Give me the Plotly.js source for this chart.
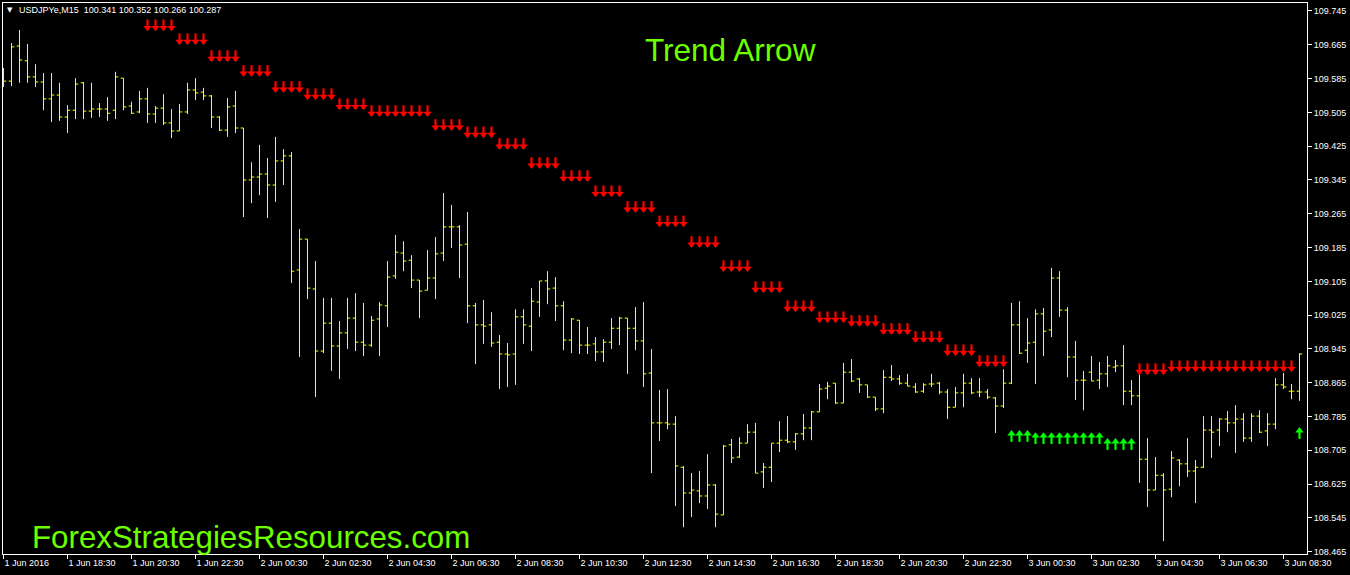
<!DOCTYPE html>
<html>
<head>
<meta charset="utf-8">
<script src="https://cdn.plot.ly/plotly-3.0.1.min.js"></script>
<style>html,body{margin:0;padding:0;background:#000;}#chart{width:1350px;height:575px;}</style>
</head>
<body>
<div id="chart"></div>
<script>
// ---- DATA (USDJPYe M15) ----
const barIndex = Array.from({length: 163}, (_, i) => i);
const openP = [109.586,109.579,109.662,109.627,109.589,109.577,109.537,109.546,109.494,109.510,
109.575,109.508,109.513,109.513,109.510,109.586,109.520,109.506,109.537,109.501,
109.515,109.480,109.461,109.506,109.558,109.553,109.544,109.494,109.463,109.520,
109.468,109.345,109.352,109.359,109.333,109.390,109.402,109.132,109.205,109.087,
108.940,109.006,108.952,108.983,109.018,108.961,108.954,109.016,109.047,109.118,
109.172,109.155,109.108,109.084,109.113,109.172,109.234,109.234,109.193,109.047,
109.002,109.002,108.961,108.933,108.933,109.021,108.999,109.056,109.106,109.089,
109.047,108.966,109.013,108.954,108.957,108.938,108.961,108.994,109.018,108.994,
108.964,108.888,108.770,108.770,108.767,108.665,108.604,108.609,108.597,108.623,
108.552,108.718,108.689,108.722,108.748,108.654,108.665,108.722,108.729,108.725,
108.744,108.758,108.796,108.852,108.864,108.817,108.890,108.874,108.860,108.831,
108.803,108.878,108.874,108.864,108.855,108.845,108.862,108.864,108.843,108.807,
108.841,108.864,108.843,108.843,108.829,108.810,108.864,109.002,108.942,108.961,
109.028,108.990,109.113,109.037,108.926,108.871,108.890,108.871,108.886,108.902,
108.905,108.845,108.834,108.684,108.611,108.646,108.613,108.682,108.673,108.656,
108.665,108.753,108.753,108.779,108.770,108.779,108.734,108.786,108.751,108.767,
108.860,108.845,108.845];
const highP = [109.610,109.669,109.700,109.667,109.619,109.598,109.598,109.575,109.522,109.586,
109.577,109.575,109.527,109.541,109.601,109.586,109.530,109.556,109.563,109.520,
109.548,109.513,109.525,109.575,109.586,109.563,109.546,109.496,109.539,109.556,
109.468,109.387,109.428,109.397,109.447,109.418,109.411,109.229,109.205,109.153,
109.066,109.066,109.011,109.066,109.077,109.054,109.023,109.056,109.153,109.215,
109.200,109.167,109.108,109.179,109.210,109.314,109.286,109.238,109.269,109.054,
109.061,109.032,108.978,108.959,109.039,109.039,109.089,109.106,109.129,109.115,
109.058,109.018,109.013,108.997,108.973,108.968,109.018,109.021,109.018,109.044,
109.056,108.945,108.848,108.850,108.786,108.668,108.651,108.656,108.696,108.625,
108.718,108.732,108.736,108.767,108.770,108.675,108.722,108.774,108.786,108.746,
108.791,108.798,108.862,108.867,108.864,108.912,108.921,108.876,108.860,108.831,
108.895,108.907,108.883,108.886,108.864,108.864,108.886,108.867,108.850,108.855,
108.886,108.876,108.876,108.850,108.831,108.897,109.054,109.058,109.018,109.039,
109.042,109.137,109.129,109.044,108.964,108.893,108.928,108.914,108.928,108.919,
108.954,108.871,108.888,108.734,108.689,108.651,108.703,108.684,108.734,108.682,
108.786,108.786,108.781,108.798,108.812,108.793,108.793,108.800,108.793,108.876,
108.888,108.862,108.935];
const lowP = [109.565,109.567,109.575,109.575,109.565,109.510,109.482,109.485,109.456,109.489,
109.489,109.492,109.494,109.485,109.489,109.510,109.501,109.503,109.480,109.480,
109.475,109.444,109.461,109.501,109.534,109.534,109.468,109.461,109.447,109.456,
109.257,109.290,109.309,109.255,109.293,109.333,109.101,108.926,109.063,108.831,
108.935,108.893,108.874,108.945,108.940,108.928,108.950,108.928,108.997,109.111,
109.129,109.089,109.018,109.084,109.063,109.153,109.184,109.113,109.006,108.909,
108.957,108.950,108.850,108.855,108.860,108.957,108.940,109.021,109.051,109.011,
108.942,108.935,108.933,108.933,108.916,108.914,108.945,108.954,108.886,108.942,
108.855,108.651,108.727,108.755,108.573,108.523,108.547,108.580,108.566,108.523,
108.552,108.675,108.687,108.722,108.651,108.616,108.630,108.701,108.722,108.706,
108.729,108.729,108.796,108.826,108.815,108.817,108.867,108.841,108.829,108.798,
108.793,108.869,108.860,108.857,108.841,108.841,108.855,108.838,108.779,108.807,
108.807,108.838,108.831,108.826,108.746,108.805,108.862,108.933,108.912,108.862,
108.928,108.973,109.021,108.878,108.824,108.800,108.869,108.850,108.855,108.890,
108.812,108.812,108.628,108.571,108.611,108.490,108.594,108.620,108.642,108.580,
108.663,108.687,108.715,108.748,108.699,108.725,108.725,108.746,108.715,108.755,
108.850,108.826,108.822];
const closeP = [109.579,109.660,109.629,109.589,109.577,109.537,109.546,109.494,109.510,109.572,
109.508,109.513,109.513,109.503,109.589,109.518,109.503,109.537,109.501,109.515,
109.480,109.461,109.506,109.558,109.551,109.544,109.494,109.463,109.518,109.468,
109.345,109.352,109.359,109.333,109.390,109.402,109.129,109.205,109.089,108.940,
109.006,108.952,108.983,109.018,108.961,108.954,109.013,109.049,109.115,109.174,
109.153,109.108,109.082,109.113,109.170,109.234,109.234,109.191,109.047,109.002,
108.999,108.959,108.933,108.931,109.021,109.002,109.058,109.106,109.087,109.047,
108.966,109.016,108.954,108.954,108.938,108.961,108.994,109.018,108.994,108.964,
108.886,108.770,108.770,108.767,108.668,108.604,108.611,108.597,108.623,108.554,
108.715,108.687,108.722,108.748,108.651,108.665,108.722,108.729,108.725,108.744,
108.758,108.796,108.850,108.857,108.817,108.890,108.869,108.860,108.831,108.803,
108.878,108.874,108.864,108.857,108.843,108.860,108.862,108.843,108.807,108.841,
108.864,108.841,108.843,108.831,108.810,108.864,109.002,108.935,108.959,109.028,
108.987,109.113,109.037,108.926,108.871,108.871,108.869,108.886,108.905,108.905,
108.845,108.834,108.684,108.611,108.646,108.611,108.687,108.673,108.656,108.665,
108.753,108.748,108.779,108.770,108.779,108.734,108.786,108.748,108.767,108.860,
108.855,108.845,108.933];

// Trend Arrow signals: bar index and level of each arrow
const downBars = [18,19,20,21, 22,23,24,25, 26,27,28,29, 30,31,32,33, 34,35,36,37, 38,39,40,41,
42,43,44,45, 46,47,48,49,50,51,52,53, 54,55,56,57, 58,59,60,61, 62,63,64,65, 66,67,68,69,
70,71,72,73, 74,75,76,77, 78,79,80,81, 82,83,84,85, 86,87,88,89, 90,91,92,93, 94,95,96,97,
98,99,100,101, 102,103,104,105, 106,107,108,109, 110,111,112,113, 114,115,116,117,
118,119,120,121, 122,123,124,125,
142,143,144,145, 146,147,148,149,150,151,152,153,154,155,156,157,158,159,160,161];
const downLevels = [109.709,109.709,109.709,109.709, 109.676,109.676,109.676,109.676,
109.636,109.636,109.636,109.636, 109.601,109.601,109.601,109.601, 109.563,109.563,109.563,109.563,
109.546,109.546,109.546,109.546, 109.522,109.522,109.522,109.522,
109.506,109.506,109.506,109.506,109.506,109.506,109.506,109.506,
109.473,109.473,109.473,109.473, 109.456,109.456,109.456,109.456, 109.428,109.428,109.428,109.428,
109.383,109.383,109.383,109.383, 109.352,109.352,109.352,109.352, 109.316,109.316,109.316,109.316,
109.279,109.279,109.279,109.279, 109.245,109.245,109.245,109.245, 109.196,109.196,109.196,109.196,
109.139,109.139,109.139,109.139, 109.089,109.089,109.089,109.089, 109.044,109.044,109.044,109.044,
109.018,109.018,109.018,109.018, 109.009,109.009,109.009,109.009, 108.990,108.990,108.990,108.990,
108.971,108.971,108.971,108.971, 108.940,108.940,108.940,108.940, 108.914,108.914,108.914,108.914,
108.895,108.895,108.895,108.895,
108.902,108.902,108.902,108.902,108.902,108.902,108.902,108.902,
108.902,108.902,108.902,108.902,108.902,108.902,108.902,108.902];
const upBars = [126,127,128,129,130,131,132,133,134,135,136,137, 138,139,140,141, 162];
const upLevels = [108.741,108.741,108.741,108.736,108.736,108.736,108.736,108.736,108.736,108.736,108.736,108.736,
108.722,108.722,108.722,108.722, 108.748];

// Time axis labels (every 8 bars = 2 hours)
const timeTickBars = [0,8,16,24,32,40,48,56,64,72,80,88,96,104,112,120,128,136,144,152,160];
const timeTickLabels = ['1 Jun 2016','1 Jun 18:30','1 Jun 20:30','1 Jun 22:30','2 Jun 00:30','2 Jun 02:30',
'2 Jun 04:30','2 Jun 06:30','2 Jun 08:30','2 Jun 10:30','2 Jun 12:30','2 Jun 14:30','2 Jun 16:30',
'2 Jun 18:30','2 Jun 20:30','2 Jun 22:30','3 Jun 00:30','3 Jun 02:30','3 Jun 04:30','3 Jun 06:30','3 Jun 08:30'];

const headerText = 'USDJPYe,M15\u00a0\u00a0100.341 100.352 100.266 100.287';

// ---- CHART ----
const W = 1350, H = 575;
const margin = {l: 3, r: 43, t: 3, b: 21};
const yRange = [108.4596, 109.7639];
const xRange = [-0.0625, 162.9375];
const plotH = H - margin.t - margin.b;
const pxToPrice = (yRange[1] - yRange[0]) / plotH;   // price units per pixel
const shift = (arr, px) => arr.map(v => v + px * pxToPrice); // px>0 moves up

const axisFont = {family: 'Liberation Sans, Arial, sans-serif', size: 9, color: '#ffffff'};
const trendGreen = '#6cff00';
const RED = '#ff0000', GREEN = '#00ff00';

function arrowTraces(xs, levels, color, dir) {
  // dir = -1 down arrow, +1 up arrow. Head = triangle, stem = short vertical line.
  const head = {
    type: 'scatter', mode: 'markers', x: xs, y: shift(levels, dir * 1.5),
    marker: {symbol: dir < 0 ? 'triangle-down' : 'triangle-up', size: 7.2, color: color, line: {width: 0}},
    hoverinfo: 'skip', showlegend: false
  };
  const stem = {
    type: 'scatter', mode: 'markers', x: xs, y: shift(levels, -dir * 2.5),
    marker: {symbol: 'line-ns', size: 6, color: color, line: {width: 2.2, color: color}},
    hoverinfo: 'skip', showlegend: false
  };
  return [stem, head];
}

const traces = [
  {
    type: 'ohlc', x: barIndex, open: openP, high: highP, low: lowP, close: closeP,
    increasing: {line: {color: '#ffff00', width: 1}},
    decreasing: {line: {color: '#ffff00', width: 1}},
    tickwidth: 0.35, hoverinfo: 'skip', showlegend: false
  },
  ...arrowTraces(downBars, downLevels, RED, -1),
  ...arrowTraces(upBars, upLevels, GREEN, 1)
];

const layout = {
  width: W, height: H,
  paper_bgcolor: '#000000', plot_bgcolor: '#000000',
  margin: margin,
  showlegend: false,
  xaxis: {
    range: xRange, rangeslider: {visible: false},
    tickmode: 'array', tickvals: timeTickBars, ticktext: timeTickLabels,
    ticks: 'outside', ticklen: 4, tickcolor: '#ffffff', tickwidth: 1,
    ticklabelposition: 'outside right',
    tickfont: axisFont,
    showgrid: false, zeroline: false,
    showline: true, linecolor: '#ffffff', linewidth: 1, mirror: true,
    fixedrange: true
  },
  yaxis: {
    side: 'right', range: yRange,
    tickmode: 'linear', tick0: 108.465, dtick: 0.08, tickformat: '.3f',
    ticks: 'outside', ticklen: 4, tickcolor: '#ffffff', tickwidth: 1,
    tickfont: axisFont,
    showgrid: false, zeroline: false,
    showline: true, linecolor: '#ffffff', linewidth: 1, mirror: true,
    fixedrange: true
  },
  annotations: [
    {xref: 'paper', yref: 'paper', x: 0.0053, y: 0.987, xanchor: 'center', yanchor: 'middle',
     text: '\u25bc', showarrow: false, font: {family: 'DejaVu Sans', size: 7, color: '#ffffff'}},
    {xref: 'paper', yref: 'paper', x: 0.0105, y: 0.987, xanchor: 'left', yanchor: 'middle',
     text: headerText, showarrow: false, font: axisFont},
    {xref: 'paper', yref: 'paper', x: 0.558, y: (554 - 50) / 551, xanchor: 'center', yanchor: 'middle',
     text: 'Trend Arrow', showarrow: false,
     font: {family: 'Liberation Sans, Arial, sans-serif', size: 31.5, color: trendGreen}},
    {xref: 'paper', yref: 'paper', x: (30 - 3) / 1304, y: (554 - 537) / 551, xanchor: 'left', yanchor: 'middle',
     text: 'ForexStrategiesResources.com', showarrow: false,
     font: {family: 'Liberation Sans, Arial, sans-serif', size: 31.3, color: trendGreen}}
  ]
};

Plotly.newPlot('chart', traces, layout, {staticPlot: true, displayModeBar: false});
</script>
</body>
</html>
